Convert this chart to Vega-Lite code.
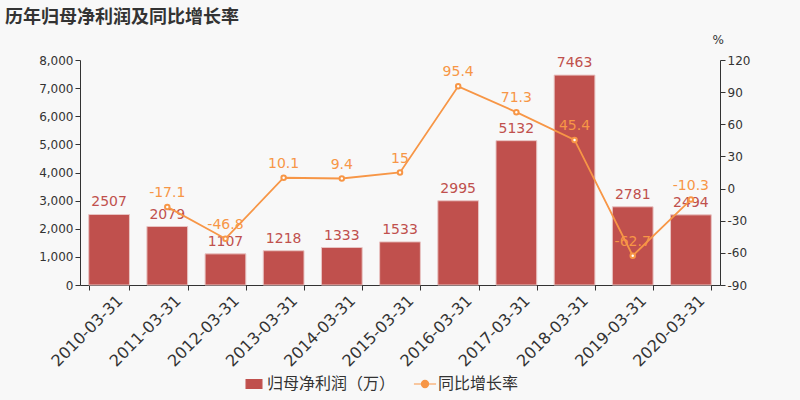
{
  "$schema": "https://vega.github.io/schema/vega-lite/v6.json",
  "background": "#f8f8f8",
  "autosize": {"type": "none"},
  "padding": {"left": 80, "top": 60, "right": 80, "bottom": 115},
  "width": 640,
  "height": 225,
  "title": {
    "text": "历年归母净利润及同比增长率",
    "anchor": "start",
    "frame": "group",
    "dx": -75,
    "offset": 6,
    "fontSize": 18,
    "fontWeight": "bold",
    "color": "#333333",
    "font": "Noto Sans CJK SC"
  },
  "config": {
    "font": "DejaVu Sans",
    "view": {"stroke": null},
    "axis": {"labelColor": "#333333", "domainColor": "#333333", "tickColor": "#333333", "grid": false, "labelFontSize": 12},
    "legend": {
      "title": null,
      "orient": "none",
      "legendX": 165,
      "legendY": 315,
      "direction": "horizontal",
      "labelFontSize": 16,
      "labelColor": "#333333",
      "labelFont": "Noto Sans CJK SC",
      "symbolSize": 250,
      "columnPadding": 15
    }
  },
  "data": {
    "values": [
      {"date": "2010-03-31", "profit": 2507, "growth": null},
      {"date": "2011-03-31", "profit": 2079, "growth": -17.1},
      {"date": "2012-03-31", "profit": 1107, "growth": -46.8},
      {"date": "2013-03-31", "profit": 1218, "growth": 10.1},
      {"date": "2014-03-31", "profit": 1333, "growth": 9.4},
      {"date": "2015-03-31", "profit": 1533, "growth": 15},
      {"date": "2016-03-31", "profit": 2995, "growth": 95.4},
      {"date": "2017-03-31", "profit": 5132, "growth": 71.3},
      {"date": "2018-03-31", "profit": 7463, "growth": 45.4},
      {"date": "2019-03-31", "profit": 2781, "growth": -62.7},
      {"date": "2020-03-31", "profit": 2494, "growth": -10.3}
    ]
  },
  "encoding": {
    "x": {
      "field": "date", "type": "nominal", "title": null,
      "scale": {"paddingInner": 0.3, "paddingOuter": 0.15},
      "axis": {"labelAngle": -45, "labelFontSize": 16, "labelAlign": "right", "labelBaseline": "top", "tickBand": "extent", "labelOffset": 5}
    }
  },
  "layer": [
    {
      "encoding": {
        "y": {
          "field": "profit", "type": "quantitative", "title": null,
          "scale": {"domain": [0, 8000], "nice": false},
          "axis": {"tickCount": 8, "format": ",d", "orient": "left"}
        }
      },
      "layer": [
        {
          "mark": {"type": "bar", "stroke": "#e8c4c3", "strokeWidth": 1},
          "encoding": {
            "color": {
              "datum": "归母净利润（万）",
              "scale": {"domain": ["归母净利润（万）", "同比增长率"], "range": ["#c0504d", "#f79646"]},
              "legend": {
                "encode": {
                  "symbols": {
                    "update": {
                      "shape": {"signal": "datum.label === '同比增长率' ? 'M-1.4,0H-0.45M0.45,0H1.4M0.45,0A0.45,0.45 0 1,1 -0.45,0A0.45,0.45 0 1,1 0.45,0' : 'M-1,-0.55H1V0.55H-1Z'"},
                      "fill": {"signal": "datum.label === '同比增长率' ? '#ffffff' : '#c0504d'"},
                      "stroke": {"signal": "datum.label === '同比增长率' ? '#f79646' : '#c0504d'"},
                      "strokeWidth": {"value": 1.2}
                    }
                  }
                }
              }
            }
          }
        },
        {
          "mark": {"type": "text", "dy": -12, "fontSize": 14, "color": "#c0504d"},
          "encoding": {
            "text": {"field": "profit", "type": "quantitative", "format": "d"}
          }
        }
      ]
    },
    {
      "transform": [{"filter": "datum.growth != null"}],
      "encoding": {
        "y": {
          "field": "growth", "type": "quantitative", "title": "%",
          "scale": {"domain": [-90, 120], "nice": false, "zero": false},
          "axis": {"orient": "right", "values": [-90, -60, -30, 0, 30, 60, 90, 120], "labelOverlap": false, "labelExpr": "'' + datum.value", "titleAngle": 0, "titleY": -14, "titleX": -8, "titleAlign": "left", "titleFontWeight": "normal", "titleFontSize": 12, "titleColor": "#333333"}
        }
      },
      "layer": [
        {
          "mark": {"type": "line", "strokeWidth": 1.8, "point": {"filled": true, "fill": "white", "stroke": "#f79646", "size": 20}},
          "encoding": {
            "color": {
              "datum": "同比增长率",
              "legend": {
                "encode": {
                  "symbols": {
                    "update": {
                      "shape": {"signal": "datum.label === '同比增长率' ? 'M-1.4,0H-0.45M0.45,0H1.4M0.45,0A0.45,0.45 0 1,1 -0.45,0A0.45,0.45 0 1,1 0.45,0' : 'M-1,-0.55H1V0.55H-1Z'"},
                      "fill": {"signal": "datum.label === '同比增长率' ? '#ffffff' : '#c0504d'"},
                      "stroke": {"signal": "datum.label === '同比增长率' ? '#f79646' : '#c0504d'"},
                      "strokeWidth": {"value": 1.2}
                    }
                  }
                }
              }
            }
          }
        },
        {
          "mark": {"type": "text", "dy": -14, "fontSize": 14, "color": "#f79646"},
          "encoding": {
            "text": {"field": "growth", "type": "nominal"}
          }
        }
      ]
    }
  ],
  "resolve": {"scale": {"y": "independent"}}
}
